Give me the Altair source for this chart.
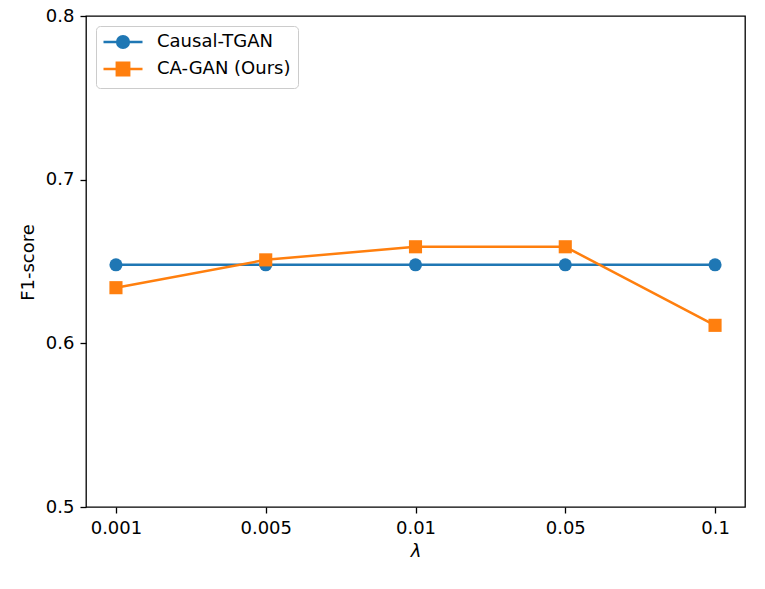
import altair as alt
import pandas as pd

lambdas = ["0.001", "0.005", "0.01", "0.05", "0.1"]
causal_tgan = [0.648, 0.648, 0.648, 0.648, 0.648]
ca_gan = [0.634, 0.651, 0.659, 0.659, 0.611]
series_names = ["Causal-TGAN", "CA-GAN (Ours)"]
colors = ["#1f77b4", "#ff7f0e"]
marker_shapes = ["circle", "square"]
y_ticks = [0.5, 0.6, 0.7, 0.8]

rows = []
for s, vals in zip(series_names, [causal_tgan, ca_gan]):
    for l, v in zip(lambdas, vals):
        rows.append({"lam": l, "series": s, "value": v})
df = pd.DataFrame(rows)

FONT = "DejaVu Sans"
FS = 18

x_enc = alt.X(
    "lam:O",
    sort=lambdas,
    scale=alt.Scale(type="point", padding=0.2),
    axis=alt.Axis(
        title="λ", labelAngle=0, titleFontStyle="italic", titleFontWeight="normal",
        titleY=44, titleBaseline="middle", domain=False,
    ),
)
y_enc = alt.Y(
    "value:Q",
    scale=alt.Scale(domain=[0.5, 0.8], nice=False, zero=False),
    axis=alt.Axis(
        title="F1-score", values=y_ticks, format=".1f", titleFontWeight="normal",
        titleX=-58, titleY=246, titleAngle=-90, titleBaseline="middle",
        titleAlign="center", domain=False,
    ),
)

base = alt.Chart(df)
layers = []
for s, c, sh in zip(series_names, colors, marker_shapes):
    sub = base.transform_filter(alt.datum.series == s)
    layers.append(sub.mark_line(color=c, strokeWidth=2.5).encode(x=x_enc, y=y_enc))
    layers.append(
        sub.mark_point(color=c, shape=sh, filled=True, opacity=1, size=172, strokeWidth=0)
        .encode(x=x_enc, y=y_enc)
    )

legend_paths = [
    "M-3,0H3M0.9,0A0.9,0.9,0,1,1,-0.9,0A0.9,0.9,0,1,1,0.9,0Z",
    "M-3,0H3M-0.95,-0.95H0.95V0.95H-0.95Z",
]
leg = alt.Legend(
    title=None, orient="top-left", offset=10, padding=7,
    fillColor="white", strokeColor="#cccccc", cornerRadius=4,
    symbolSize=169, symbolStrokeWidth=2.5, symbolOpacity=1,
    symbolOffset=11, labelOffset=25, rowPadding=4,
    labelFont=FONT, labelFontSize=FS, labelColor="black",
)
legend_layer = (
    base.transform_filter("false")
    .mark_point(filled=True)
    .encode(
        x=x_enc,
        y=y_enc,
        fill=alt.Fill("series:N", scale=alt.Scale(domain=series_names, range=colors), legend=leg),
        stroke=alt.Stroke("series:N", scale=alt.Scale(domain=series_names, range=colors), legend=leg),
        shape=alt.Shape("series:N", scale=alt.Scale(domain=series_names, range=legend_paths), legend=leg),
    )
)
layers.append(legend_layer)

chart = (
    alt.layer(*layers)
    .properties(
        width=659, height=491,
        autosize=alt.AutoSizeParams(type="none"),
        padding={"left": 78, "top": 8, "right": 12, "bottom": 74},
        background="white",
    )
    .configure_view(stroke="black", strokeWidth=1.3)
    .configure_axis(
        labelFont=FONT, titleFont=FONT, labelFontSize=FS, titleFontSize=FS,
        labelColor="black", titleColor="black", tickColor="black",
        tickSize=6, tickWidth=1.3, labelPadding=6, grid=False,
    )
)

chart.save("out.html", embed_options={"renderer": "svg", "actions": False})
